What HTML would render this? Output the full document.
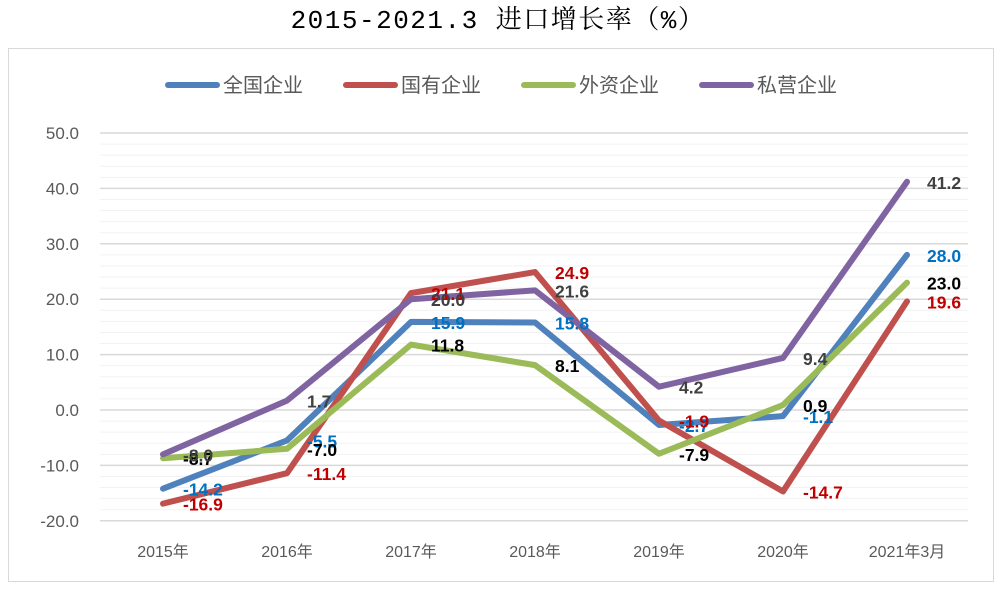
<!DOCTYPE html>
<html><head><meta charset="utf-8"><style>
body{margin:0;background:#fff;width:1000px;height:589px;overflow:hidden}
svg text{font-family:"Liberation Sans","Noto Sans CJK SC",sans-serif}
</style></head><body>
<svg width="1000" height="589">
<text x="498" y="28" text-anchor="middle" font-size="26" letter-spacing="1.5" fill="#000" style="font-family:'Liberation Mono','Noto Serif CJK SC',monospace">2015-2021.3 进口增长率（%）</text>
<rect x="8.5" y="48.5" width="985" height="533" fill="#fff" stroke="#d9d9d9"/>
<g id="grid"></g>
<g id="yt"></g>
<g id="xt"></g>
<g id="lines"></g>
<g id="labels"></g>
<g id="legend"></g>
</svg>
<script>
const categories=["2015年","2016年","2017年","2018年","2019年","2020年","2021年3月"];
const seriesNames=["全国企业","国有企业","外资企业","私营企业"];
const allEnt=[-14.2,-5.5,15.9,15.8,-2.7,-1.1,28.0];
const stateEnt=[-16.9,-11.4,21.1,24.9,-1.9,-14.7,19.6];
const foreignEnt=[-8.7,-7.0,11.8,8.1,-7.9,0.9,23.0];
const privateEnt=[-8.0,1.7,20.0,21.6,4.2,9.4,41.2];
const yTicks=[50,40,30,20,10,0,-10,-20];
const series=[allEnt,stateEnt,foreignEnt,privateEnt];
const colors=["#4f81bd","#c0504d","#9bbb59","#8064a2"];
const labelColors=["#0070c0","#c00000","#000","#404040"];
const NS="http://www.w3.org/2000/svg";
const x0=100,x1=968;
function y(v){return 410-v*5.54;}
function x(i){return 163+i*124;}
function mk(t,a,p){const e=document.createElementNS(NS,t);for(const k in a)e.setAttribute(k,a[k]);p.appendChild(e);return e;}
const grid=document.getElementById('grid');
for(let v=-20;v<=50;v+=2){
 const major=v%10===0;
 const l=mk('line',{x1:x0,x2:x1,y1:y(v),y2:y(v),stroke:major?'#d9d9d9':'#f2f2f2','stroke-width':major?1.5:1},grid);
 
 
}
const yt=document.getElementById('yt');
yTicks.forEach(v=>{const t=mk('text',{x:79,y:y(v)+6,'text-anchor':'end','font-size':17,fill:'#595959'},yt);t.textContent=v.toFixed(1);
 });
const xt=document.getElementById('xt');
categories.forEach((c,i)=>{const t=mk('text',{x:x(i),y:557,'text-anchor':'middle','font-size':16,fill:'#595959'},xt);t.textContent=c;
 });
const lg=document.getElementById('lines'),lb=document.getElementById('labels');
series.forEach((s,k)=>{
 const p=mk('polyline',{points:s.map((v,i)=>x(i)+','+y(v)).join(' '),fill:'none',stroke:colors[k],'stroke-width':6,'stroke-linejoin':'round','stroke-linecap':'round'},lg);
 
 
});
series.forEach((s,k)=>{
 s.forEach((v,i)=>{const t=mk('text',{x:x(i)+20,y:y(v)+7,'font-size':17.5,'font-weight':'bold',fill:labelColors[k]},lb);t.textContent=v.toFixed(1);
 });
});
const leg=document.getElementById('legend');
const lx=[165,343,521,699];
seriesNames.forEach((n,k)=>{
 const l=mk('line',{x1:lx[k]+3,x2:lx[k]+52,y1:85,y2:85,stroke:colors[k],'stroke-width':6,'stroke-linecap':'round'},leg);
 
 const t=mk('text',{x:lx[k]+58,y:92,'font-size':20,fill:'#595959'},leg);t.textContent=n;
 
});
</script>
</body></html>
